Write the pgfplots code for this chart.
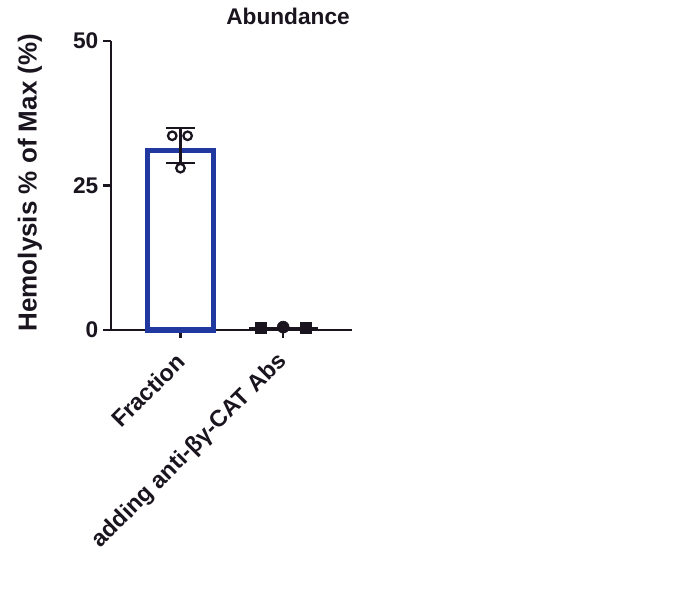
\documentclass[border=0pt]{standalone}
\usepackage{pgfplots}
\pgfplotsset{compat=1.18}
\usepackage{fontspec}
\setmainfont{Liberation Sans}
\definecolor{barblue}{RGB}{33,56,160}
\definecolor{ink}{RGB}{25,20,30}

\pgfplotstableread{
x    y     ep   em
0    31.1  3.8  2.2
}\fractiondata

\begin{document}
\begin{tikzpicture}
    \path[use as bounding box] (0,0) rectangle (505.5pt,447pt);
    \begin{axis}[
        at={(83.25pt,199.5pt)}, anchor=south west,
        scale only axis,
        width=180.75pt, height=216.75pt,
        xmin=-0.676, xmax=1.67,
        ymin=0, ymax=50,
        clip=false,
        axis x line=bottom, axis y line=left,
        axis line style={line width=2.2pt, -, ink},
        tick align=outside,
        major tick length=6pt,
        tick style={line width=1.6pt, ink},
        xtick={0,1},
        xticklabels={Fraction, adding anti-βγ-CAT Abs},
        ytick={0,25,50},
        minor tick num=0,
        /pgf/number format/assume math mode=true,
        ticklabel style={font=\bfseries\fontsize{17}{17}\selectfont, text=ink},
        xticklabel style={xshift=2.5pt, yshift=-12.5pt, rotate=45, anchor=east,
            font=\bfseries\fontsize{17.5}{17.5}\selectfont},
        ylabel={Hemolysis \% of Max (\%)},
        ylabel style={at={(axis description cs:-0.336,0.51)}, anchor=center,
            font=\bfseries\fontsize{19.5}{19.5}\selectfont, text=ink},
    ]
    % bars
    \addplot[ybar, bar width=49.5pt, bar shift=0pt, draw=barblue, fill=white,
        line width=3.8pt, forget plot,
        error bars/.cd, y dir=both, y explicit,
        error mark=|,
        error bar style={line width=1.6pt, color=ink},
        error mark options={line width=1.6pt, mark size=11pt, color=ink}]
        table[x=x, y=y, y error plus=ep, y error minus=em] {\fractiondata};
    \addplot[ybar, bar width=49.5pt, bar shift=0pt, draw=ink, fill=white,
        line width=2.2pt, forget plot]
        coordinates {(1,0.3)};
    % individual points
    \addplot[only marks, mark=o, mark size=3.2pt, line width=1.7pt, ink]
        coordinates {(-0.08,33.6) (0.07,33.6) (0.0,28.0)};
    \addplot[only marks, mark=square*, mark size=4pt, ink]
        coordinates {(0.78,0.4) (1.22,0.4)};
    \addplot[only marks, mark=*, mark size=4.5pt, ink]
        coordinates {(1.0,0.5)};
    \end{axis}
    \node[font=\bfseries\fontsize{17}{17}\selectfont, text=ink] at (216pt,435pt) {Abundance};
\end{tikzpicture}
\end{document}
